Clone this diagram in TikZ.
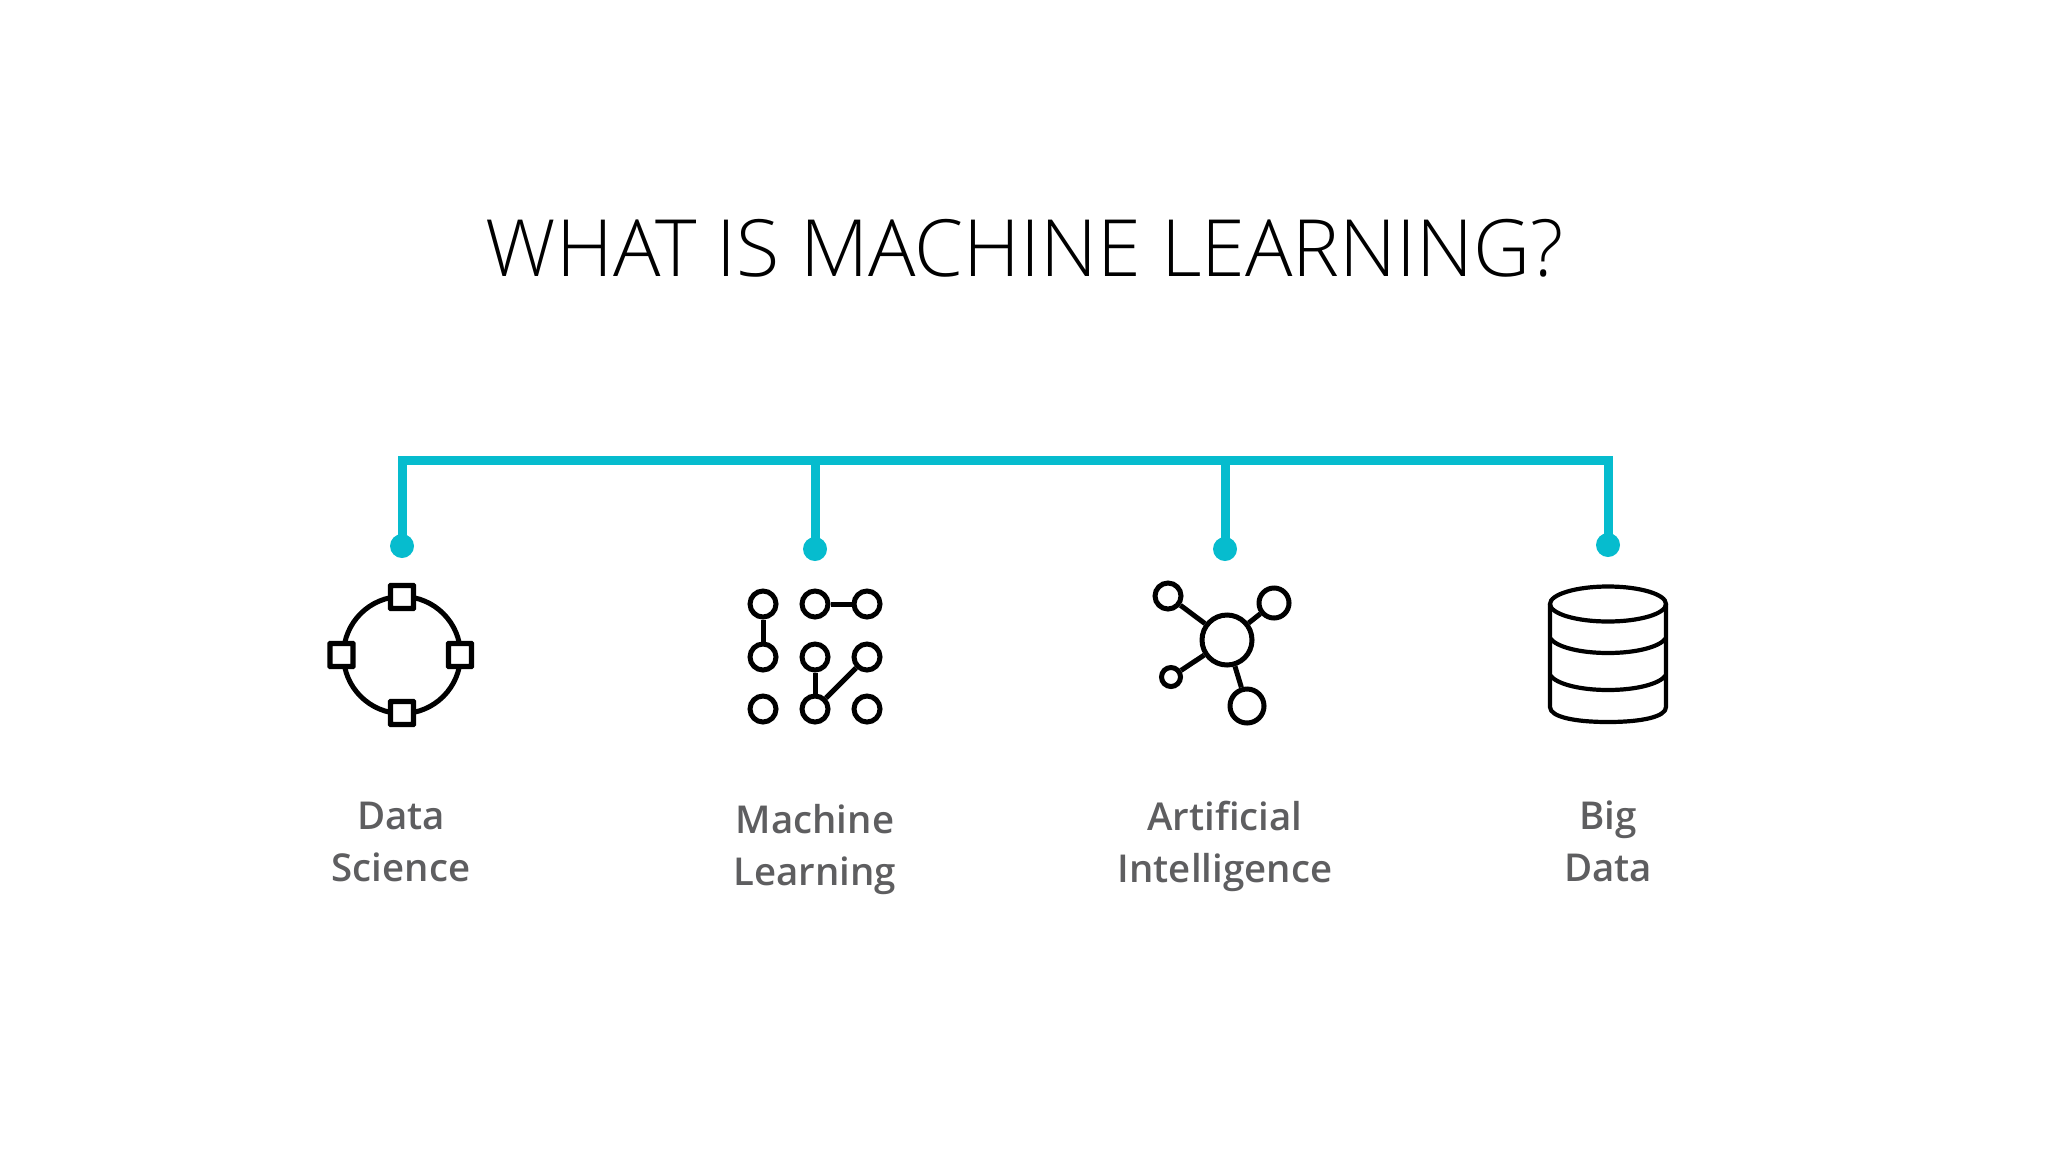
\documentclass[tikz,border=0pt]{standalone}
\usepackage{fontspec}
\setmainfont{Open Sans}
\newfontfamily\titlefont{Open Sans Light}
\newfontfamily\labelfont{Open Sans Semibold}
\usepackage{tikz}
\definecolor{branchcol}{HTML}{06BCCE}
\definecolor{labelcol}{HTML}{5E5E60}
\tikzset{
  branch/.style={draw=branchcol, line width=9pt},
  tip/.style={circle, fill=branchcol, inner sep=0pt, minimum size=24pt},
  title/.style={font=\titlefont\fontsize{79}{81}\selectfont, text=black, anchor=base},
  caption/.style={font=\labelfont\fontsize{38.4}{52}\selectfont, text=labelcol, align=center, anchor=base},
  icon/.style={draw=black, line width=5pt},
  port/.style={icon, line width=5.4pt, fill=white, rectangle, rounded corners=0.5pt, inner sep=0pt, minimum size=23pt},
  ball/.style={icon, circle, inner sep=0pt, minimum size=#1},
  ball/.default=26pt,
  drum/.style={draw=black, line width=4.2pt}
}
\begin{document}
\begin{tikzpicture}[x=1pt,y=-1pt]
  \useasboundingbox (0,0) rectangle (2048,1152);
  \node[title] (heading) at (1025,276) {WHAT IS MACHINE LEARNING?};

  % the bar and its four drops
  \coordinate (barleft) at (402,460.5);
  \coordinate (barml) at (815,460.5);
  \coordinate (barai) at (1225,460.5);
  \coordinate (barright) at (1608,460.5);
  \node[tip] (tipds) at (402,546) {};
  \node[tip] (tipml) at (815,549) {};
  \node[tip] (tipai) at (1225,549) {};
  \node[tip] (tipbd) at (1608,545) {};
  \draw[branch] (tipds.center) -- (barleft) -- (barright) -- (tipbd.center);
  \draw[branch] (barml) -- (tipml.center);
  \draw[branch] (barai) -- (tipai.center);

  % data science
  \coordinate (dscenter) at (402,655);
  \def\dsradius{58.5}
  \draw[icon] (dscenter) circle[radius=\dsradius];
  \node[port] (dstop) at (402,597) {};
  \node[port] (dsleft) at (341.5,655) {};
  \node[port] (dsright) at (460,655) {};
  \node[port] (dsbottom) at (402,713) {};

  % machine learning
  \foreach \name/\xpos in {a/763,b/815,c/867} {
    \foreach \row/\ypos in {1/604,2/657,3/709} {
      \node[ball] (ml\name\row) at (\xpos,\ypos) {};
    }
  }
  \draw[icon] (mla1) -- (mla2);
  \draw[icon] (mlb1) -- (mlc1);
  \draw[icon] (mlb2) -- (mlb3);
  \draw[icon] (mlc2) -- (mlb3);

  % artificial intelligence
  \node[ball=50pt] (hub) at (1227,640) {};
  \node[ball=26pt] (satnw) at (1168,596) {};
  \node[ball=30pt] (satne) at (1274,603) {};
  \node[ball=19pt] (satsw) at (1171,677) {};
  \node[ball=34pt] (satse) at (1247,706) {};
  \draw[icon] (hub) -- (satnw);
  \draw[icon] (hub) -- (satne);
  \draw[icon] (hub) -- (satsw);
  \draw[icon] (hub) -- (satse);

  % big data
  \draw[drum] (1608,604) ellipse[x radius=58, y radius=17.5];
  \draw[drum, line join=round] (1550,604) -- (1550,707) .. controls (1550,717) and (1575,722) .. (1608,722) .. controls (1641,722) and (1666,717) .. (1666,707) -- (1666,604);
  \draw[drum] (1550,638) .. controls (1556,647) and (1580,653) .. (1608,653) .. controls (1636,653) and (1660,647) .. (1666,638);
  \draw[drum] (1550,675) .. controls (1556,684) and (1580,690) .. (1608,690) .. controls (1636,690) and (1660,684) .. (1666,675);

  % labels
  \node[caption] (dslabel) at (401,881) {Data\\Science};
  \node[caption] (mllabel) at (815,885) {Machine\\Learning};
  \node[caption] (ailabel) at (1225,882) {Artificial\\Intelligence};
  \node[caption] (bdlabel) at (1608,881) {Big\\Data};
\end{tikzpicture}
\end{document}
